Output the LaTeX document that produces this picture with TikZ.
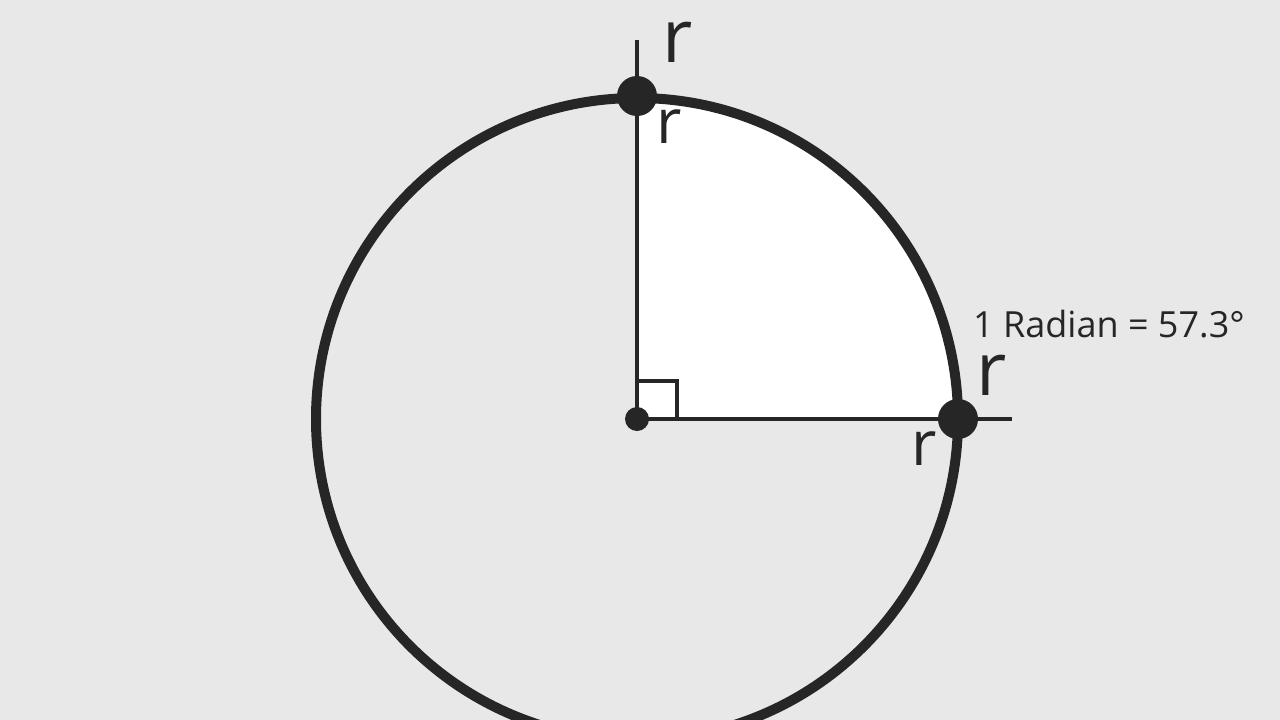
\documentclass[tikz,border=0pt]{standalone}
\usepackage{fontspec}
\setmainfont{Open Sans}
\definecolor{bg}{HTML}{E8E8E8}
\definecolor{ink}{HTML}{262626}
\begin{document}
\begin{tikzpicture}[x=1pt,y=-1pt,
  bigdot/.style={circle,fill=ink,inner sep=0pt,minimum size=40pt},
  smalldot/.style={circle,fill=ink,inner sep=0pt,minimum size=24pt},
  thin line/.style={draw=ink,line width=4pt},
  rim/.style={draw=ink,line width=10pt},
  lab/.style={inner sep=0pt,text=ink}]
\fill[bg] (0,0) rectangle (1280,720);
\clip (0,0) rectangle (1280,720);
% white sector
\fill[white] (637,419) -- (637,98) arc[start angle=90,end angle=0,radius=321pt] -- cycle;
% circle
\coordinate (O) at (637,419);
\draw[rim] (O) circle[radius=321pt];
% coordinates for line ends
\coordinate (Vtop) at (637,40);
\coordinate (Hend) at (1012,419);
\draw[thin line] (O) -- (Vtop);
\draw[thin line] (O) -- (Hend);
% right-angle mark
\draw[draw=ink,line width=3.5pt] (637,381) -- (677,381) -- (677,419);
% dots
\node[smalldot] (C) at (O) {};
\node[bigdot] (T) at (637,96) {};
\node[bigdot] (R) at (958,419) {};
% labels
\node[lab,font=\fontsize{74}{74}\selectfont] (r1) at (678,42) {r};
\node[lab,font=\fontsize{62}{62}\selectfont] (r2) at (669,127) {r};
\node[lab,font=\fontsize{74}{74}\selectfont] (r3) at (992,375) {r};
\node[lab,font=\fontsize{62}{62}\selectfont] (r4) at (924,449) {r};
\node[lab,anchor=base west,font=\fontsize{36}{36}\selectfont] (eq) at (973,337) {1 Radian = 57.3°};
\end{tikzpicture}
\end{document}
